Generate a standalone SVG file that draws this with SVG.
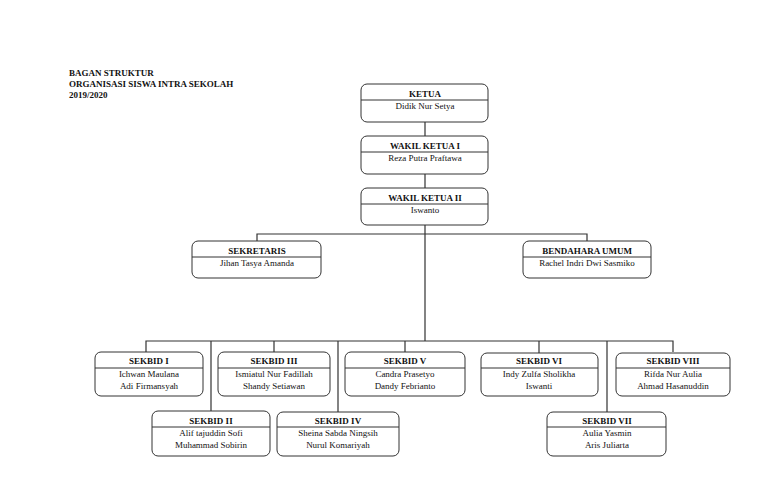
<svg xmlns="http://www.w3.org/2000/svg" width="768" height="501" viewBox="0 0 768 501">
<style>
.b{fill:#fff;stroke:#333;stroke-width:1}
.d{stroke:#333;stroke-width:1}
.c{fill:none;stroke:#333;stroke-width:1.2}
text{font-family:"Liberation Serif",serif;font-size:9px;fill:#111;text-anchor:middle}
.h{font-weight:bold}
.t{font-weight:bold;text-anchor:start;font-size:9px}
</style>
<rect width="768" height="501" fill="#fff"/>
<g id="title">
<text class="t" x="69" y="76">BAGAN STRUKTUR</text>
<text class="t" x="69" y="87">ORGANISASI SISWA INTRA SEKOLAH</text>
<text class="t" x="69" y="98">2019/2020</text>
</g>
<g id="connectors">
<path class="c" d="M425 122V136M425 174V188M425 225V341M257 241V234H587V241M146 352V341H673V352M211 341V411M274 341V352M338 341V412M405 341V352M539 341V353M607 341V412"/>
</g>
<g id="ketua"><rect class="b" x="361" y="84" width="127" height="38" rx="6"/><line class="d" x1="361" y1="100" x2="488" y2="100"/><text class="h" x="425" y="97">KETUA</text><text x="425" y="109">Didik Nur Setya</text></g>
<g id="wakil1"><rect class="b" x="361" y="136" width="127" height="38" rx="6"/><line class="d" x1="361" y1="152" x2="488" y2="152"/><text class="h" x="425" y="149">WAKIL KETUA I</text><text x="425" y="161">Reza Putra Praftawa</text></g>
<g id="wakil2"><rect class="b" x="361" y="188" width="127" height="37" rx="6"/><line class="d" x1="361" y1="204" x2="488" y2="204"/><text class="h" x="425" y="201">WAKIL KETUA II</text><text x="425" y="213">Iswanto</text></g>
<g id="sekretaris"><rect class="b" x="192" y="241" width="129" height="37" rx="6"/><line class="d" x1="192" y1="257" x2="321" y2="257"/><text class="h" x="257" y="254">SEKRETARIS</text><text x="257" y="266">Jihan Tasya Amanda</text></g>
<g id="bendahara"><rect class="b" x="523" y="241" width="128" height="37" rx="6"/><line class="d" x1="523" y1="257" x2="651" y2="257"/><text class="h" x="587" y="254">BENDAHARA UMUM</text><text x="587" y="266">Rachel Indri Dwi Sasmiko</text></g>
<g id="sekbid1"><rect class="b" x="95" y="352" width="108" height="44" rx="6"/><line class="d" x1="95" y1="368" x2="203" y2="368"/><text class="h" x="149" y="364">SEKBID I</text><text x="149" y="377">Ichwan Maulana</text><text x="149" y="389">Adi Firmansyah</text></g>
<g id="sekbid2"><rect class="b" x="152" y="411" width="118" height="45" rx="6"/><line class="d" x1="152" y1="427" x2="270" y2="427"/><text class="h" x="211" y="424">SEKBID II</text><text x="211" y="436">Alif tajuddin Sofi</text><text x="211" y="448">Muhammad Sobirin</text></g>
<g id="sekbid3"><rect class="b" x="218" y="352" width="112" height="44" rx="6"/><line class="d" x1="218" y1="368" x2="330" y2="368"/><text class="h" x="274" y="364">SEKBID III</text><text x="274" y="377">Ismiatul Nur Fadillah</text><text x="274" y="389">Shandy Setiawan</text></g>
<g id="sekbid4"><rect class="b" x="277" y="412" width="122" height="44" rx="6"/><line class="d" x1="277" y1="427" x2="399" y2="427"/><text class="h" x="338" y="424">SEKBID IV</text><text x="338" y="436">Sheina Sabda Ningsih</text><text x="338" y="448">Nurul Komariyah</text></g>
<g id="sekbid5"><rect class="b" x="345" y="352" width="120" height="44" rx="6"/><line class="d" x1="345" y1="368" x2="465" y2="368"/><text class="h" x="405" y="364">SEKBID V</text><text x="405" y="377">Candra Prasetyo</text><text x="405" y="389">Dandy Febrianto</text></g>
<g id="sekbid6"><rect class="b" x="481" y="353" width="117" height="43" rx="6"/><line class="d" x1="481" y1="368" x2="598" y2="368"/><text class="h" x="539" y="364">SEKBID VI</text><text x="539" y="377">Indy Zulfa Sholikha</text><text x="539" y="389">Iswanti</text></g>
<g id="sekbid7"><rect class="b" x="547" y="412" width="119" height="44" rx="6"/><line class="d" x1="547" y1="427" x2="666" y2="427"/><text class="h" x="607" y="424">SEKBID VII</text><text x="607" y="436">Aulia Yasmin</text><text x="607" y="448">Aris Juliarta</text></g>
<g id="sekbid8"><rect class="b" x="616" y="353" width="114" height="43" rx="6"/><line class="d" x1="616" y1="368" x2="730" y2="368"/><text class="h" x="673" y="364">SEKBID VIII</text><text x="673" y="377">Rifda Nur Aulia</text><text x="673" y="389">Ahmad Hasanuddin</text></g>
</svg>
